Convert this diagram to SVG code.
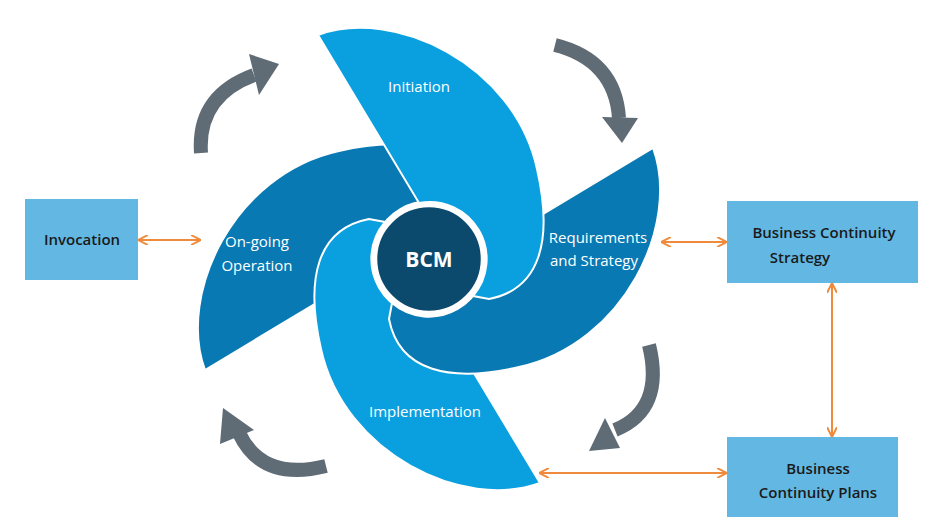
<svg xmlns="http://www.w3.org/2000/svg" width="934" height="527" viewBox="0 0 934 527">
<style>
.lt{fill:#0aa0df;stroke:#fff;stroke-width:2}
.dk{fill:#0879b2;stroke:#fff;stroke-width:2}
.wt{fill:#fff;font-family:"Open Sans",sans-serif;font-size:15px;text-anchor:middle}
.bx{fill:#63b8e3}
.bt{fill:#1a1a1a;font-family:"Open Sans",sans-serif;font-size:15px;font-weight:600;text-anchor:middle}
.oc{stroke:#f08a3c;stroke-width:2;fill:none;marker-start:url(#oa);marker-end:url(#oa)}
.ga{fill:none;stroke:#5f6b75;stroke-width:14}
.gh{fill:#5f6b75}
</style>
<defs>
<marker id="oa" viewBox="0 0 10 10" refX="9" refY="5" markerWidth="5" markerHeight="5" orient="auto-start-reverse"><path d="M0,0 L10,5 L0,10" fill="none" stroke="#f08a3c" stroke-width="2"/></marker>
<path id="blade" d="M-111,-224 C-35,-252 85,-195 108,-90 C124,-20 112,30 60,40 L44,37 A57 57 0 0 0 -10,-56 Z"/>
</defs>
<rect width="934" height="527" fill="#fff"/>
<g id="arrows">
<path class="ga" d="M201,153 Q197,96 254,75"/><path class="gh" d="M249,54 L259,95 L279,64 Z"/>
<path class="ga" d="M555,45 Q615,60 619,118"/><path class="gh" d="M602,117 L638,118 L622,143 Z"/>
<path class="ga" d="M649,345 Q665,410 615,430"/><path class="gh" d="M605,418 L620,448 L589,451 Z"/>
<path class="ga" d="M326,466 Q262,482 239,433"/><path class="gh" d="M220,444 L254,430 L223,408 Z"/>
</g>
<g transform="translate(429,259)">
<g id="ongoing"><use href="#blade" class="dk" transform="rotate(270)"/></g>
<g id="implementation"><use href="#blade" class="lt" transform="rotate(180)"/></g>
<g id="requirements"><use href="#blade" class="dk" transform="rotate(90)"/></g>
<g id="initiation"><use href="#blade" class="lt"/></g>
<g id="bcm"><circle r="53" fill="#0b4a6d" stroke="#fff" stroke-width="2.5"/>
<text y="8" fill="#fff" font-family="Open Sans,sans-serif" font-size="21" font-weight="700" text-anchor="middle">BCM</text></g>
</g>
<text class="wt" x="419" y="92">Initiation</text>
<text class="wt" x="257" y="247">On-going</text>
<text class="wt" x="257" y="271">Operation</text>
<text class="wt" x="598" y="243">Requirements</text>
<text class="wt" x="594" y="266">and Strategy</text>
<text class="wt" x="425" y="417">Implementation</text>
<g id="invocation"><rect class="bx" x="25" y="199" width="113" height="81"/><text class="bt" x="82" y="245">Invocation</text></g>
<g id="bcstrategy"><rect class="bx" x="727" y="201" width="191" height="82"/><text class="bt" x="824" y="238">Business Continuity</text><text class="bt" x="800" y="263">Strategy</text></g>
<g id="bcplans"><rect class="bx" x="727" y="437" width="171" height="80"/><text class="bt" x="818" y="474">Business</text><text class="bt" x="818" y="498">Continuity Plans</text></g>
<g id="connectors">
<path class="oc" d="M139,240 H200"/>
<path class="oc" d="M662,242 H726"/>
<path class="oc" d="M540,473 H726"/>
<path class="oc" d="M832,284 V436"/>
</g>
</svg>
